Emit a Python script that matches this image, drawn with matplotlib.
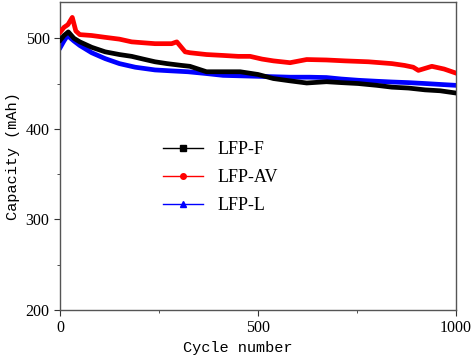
import matplotlib.pyplot as plt
from matplotlib.lines import Line2D
from matplotlib.ticker import MultipleLocator

# values
cycles_f = [1, 10, 21, 35, 50, 80, 114, 150, 181, 210, 240, 270, 307, 328, 370, 412,
            455, 500, 539, 580, 623, 673, 710, 753, 800, 838, 880, 922, 960, 1000]
cap_f = [498, 503, 507, 500, 496, 490, 485, 482, 480, 477, 474, 472, 470, 469, 463, 463,
         463, 460, 455.5, 453, 450.6, 452, 451, 450, 448, 446, 445, 443, 442, 439.5]

cycles_av = [1, 10, 20, 31, 40, 50, 80, 114, 150, 181, 210, 240, 282, 295, 316, 328, 370,
             412, 450, 480, 510, 539, 581, 623, 673, 720, 779, 838, 870, 892, 905, 939, 970, 1000]
cap_av = [507, 512, 515, 523, 508, 504, 503, 501, 499, 496, 495, 494, 494, 496, 485, 484, 482,
          481, 480, 480, 477, 475, 473, 476.5, 476, 475, 474, 472, 470, 468, 464.5, 469, 466, 461.5]

cycles_l = [1, 10, 19, 35, 50, 80, 114, 150, 190, 240, 280, 323, 370, 412, 455, 497, 540,
            581, 630, 673, 710, 753, 800, 838, 880, 922, 960, 1000]
cap_l = [490, 497, 503, 497, 492, 484, 477.5, 472, 468, 465, 464, 463, 461, 459, 458.5, 458,
         457.5, 457, 457, 456.6, 455, 453.6, 452.5, 451.7, 451, 450, 449, 448]

labels = ["LFP-F", "LFP-AV", "LFP-L"]
colors = ["black", "red", "blue"]
markers = ["s", "o", "^"]


def main():
    fig = plt.figure(figsize=(4.74, 3.55), dpi=100)
    ax = fig.add_axes([60 / 474, 1 - 310 / 355, 396 / 474, 308 / 355])

    ax.plot(cycles_l, cap_l, color="blue", lw=3.4, zorder=2)
    ax.plot(cycles_av, cap_av, color="red", lw=3.4, zorder=3)
    ax.plot(cycles_f, cap_f, color="black", lw=3.4, zorder=4)

    ax.set_xlim(0, 1000)
    ax.set_ylim(200, 540)
    ax.xaxis.set_major_locator(MultipleLocator(500))
    ax.xaxis.set_minor_locator(MultipleLocator(250))
    ax.yaxis.set_major_locator(MultipleLocator(100))
    ax.yaxis.set_minor_locator(MultipleLocator(50))
    ax.tick_params(which="both", direction="out", color="#333333")
    ax.tick_params(which="major", length=4)
    ax.tick_params(which="minor", length=2.5)
    for lab in ax.get_xticklabels() + ax.get_yticklabels():
        lab.set_fontfamily("Liberation Serif")
        lab.set_fontsize(11.5)
    for side in ax.spines:
        ax.spines[side].set_color("#555555")
        ax.spines[side].set_linewidth(1.0)

    ax.set_xlabel("Cycle number", family="Liberation Mono", fontsize=11)
    ax.xaxis.set_label_coords(0.45, -0.1)
    ax.set_ylabel("Capacity (mAh)", family="Liberation Mono", fontsize=11, labelpad=4)

    handles = [Line2D([], [], color=c, lw=1, marker=m, markersize=4) for c, m in zip(colors, markers)]
    ax.legend(handles, labels, loc="upper left", frameon=False,
              bbox_to_anchor=(163 / 474, 1 - 141 / 355), bbox_transform=fig.transFigure,
              prop={"family": "Liberation Serif", "size": 13},
              handlelength=2.22, handletextpad=0.78, labelspacing=0.62,
              borderpad=0, borderaxespad=0)

    fig.savefig("out.png", dpi=100)


if __name__ == "__main__":
    main()
